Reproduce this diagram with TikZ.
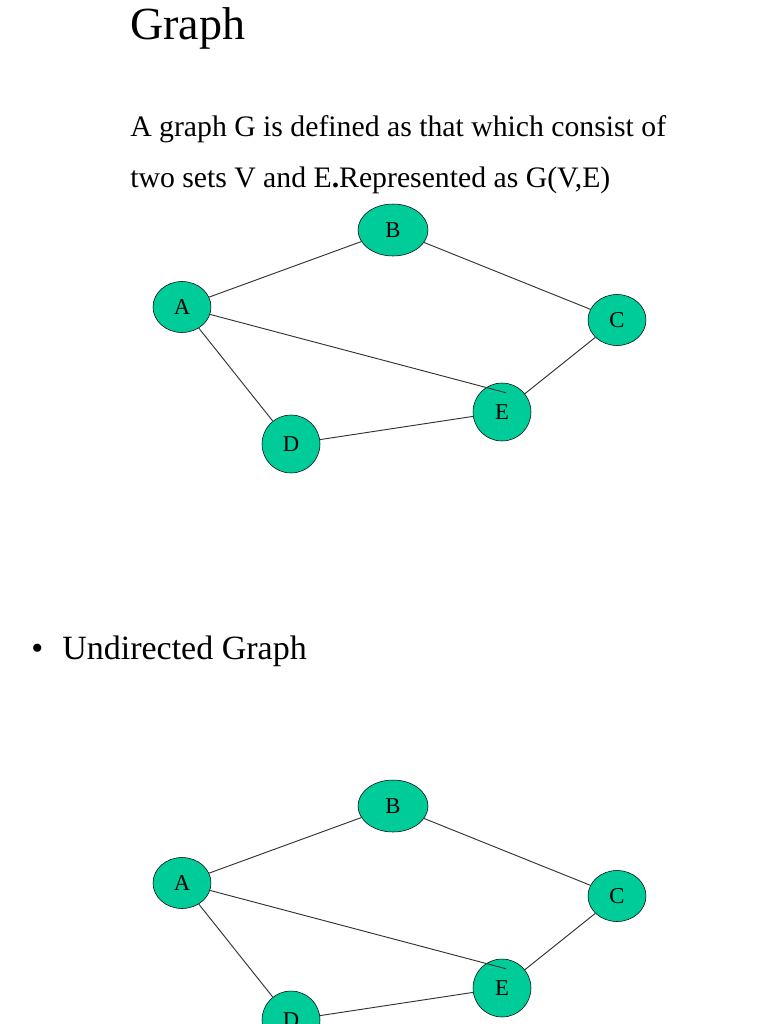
\documentclass[tikz,border=0pt]{standalone}
\usepackage{fontspec}
\setmainfont{Liberation Serif}
\usetikzlibrary{shapes.geometric}
\definecolor{nodegreen}{RGB}{0,204,153}
\tikzset{>=latex}

\begin{document}
\begin{tikzpicture}[x=0.75pt, y=-0.75pt,
    vertex/.style={ellipse, draw, thin, fill=nodegreen, inner sep=0pt,
      minimum width=43.5pt, minimum height=38.25pt,
      font=\fontsize{17}{20}\selectfont},
    widevertex/.style={vertex, minimum width=52.5pt, minimum height=39pt},
    roundvertex/.style={vertex, minimum width=43.5pt, minimum height=43.5pt},
    link/.style={draw=black!80, line width=0.7pt},
    txt/.style={anchor=base west, inner sep=0pt}]
    \clip (0,0) rectangle (768,1024);
    \fill[white] (0,0) rectangle (768,1024);

    % Text
    \node[txt, font=\fontsize{34.5}{40}\selectfont] (title) at (130,40) {Graph};
    \node[txt, font=\fontsize{22.3}{28}\selectfont] (line1) at (130,136) {A graph G is defined as that which consist of};
    \node[txt, font=\fontsize{22.3}{28}\selectfont] (line2) at (130,187) {two sets V and E{\bfseries.}Represented as G(V,E)};
    \node[txt, font=\fontsize{25.5}{30}\selectfont] (bullet) at (31,659) {\textbullet};
    \node[txt, font=\fontsize{25.5}{30}\selectfont] (undirected) at (62,659) {Undirected Graph};

    % Graphs
    \foreach \g/\dy in {1/0, 2/576} {
      \node[vertex] (A\g) at (182,{307+\dy}) {A};
      \node[widevertex] (B\g) at (393,{230+\dy}) {B};
      \node[vertex] (C\g) at (617,{320+\dy}) {C};
      \node[roundvertex] (E\g) at (502,{412+\dy}) {E};
      \node[roundvertex] (D\g) at (291,{444+\dy}) {D};

      \draw[link] (A\g) -- (B\g);
      \draw[link] (B\g) -- (C\g);
      \draw[link] (A\g) -- ([xshift=3pt, yshift=-7.5pt]E\g.north);
      \draw[link] (C\g) -- (E\g);
      \draw[link] (A\g) -- (D\g);
      \draw[link] (D\g) -- (E\g);
    }
\end{tikzpicture}
\end{document}
